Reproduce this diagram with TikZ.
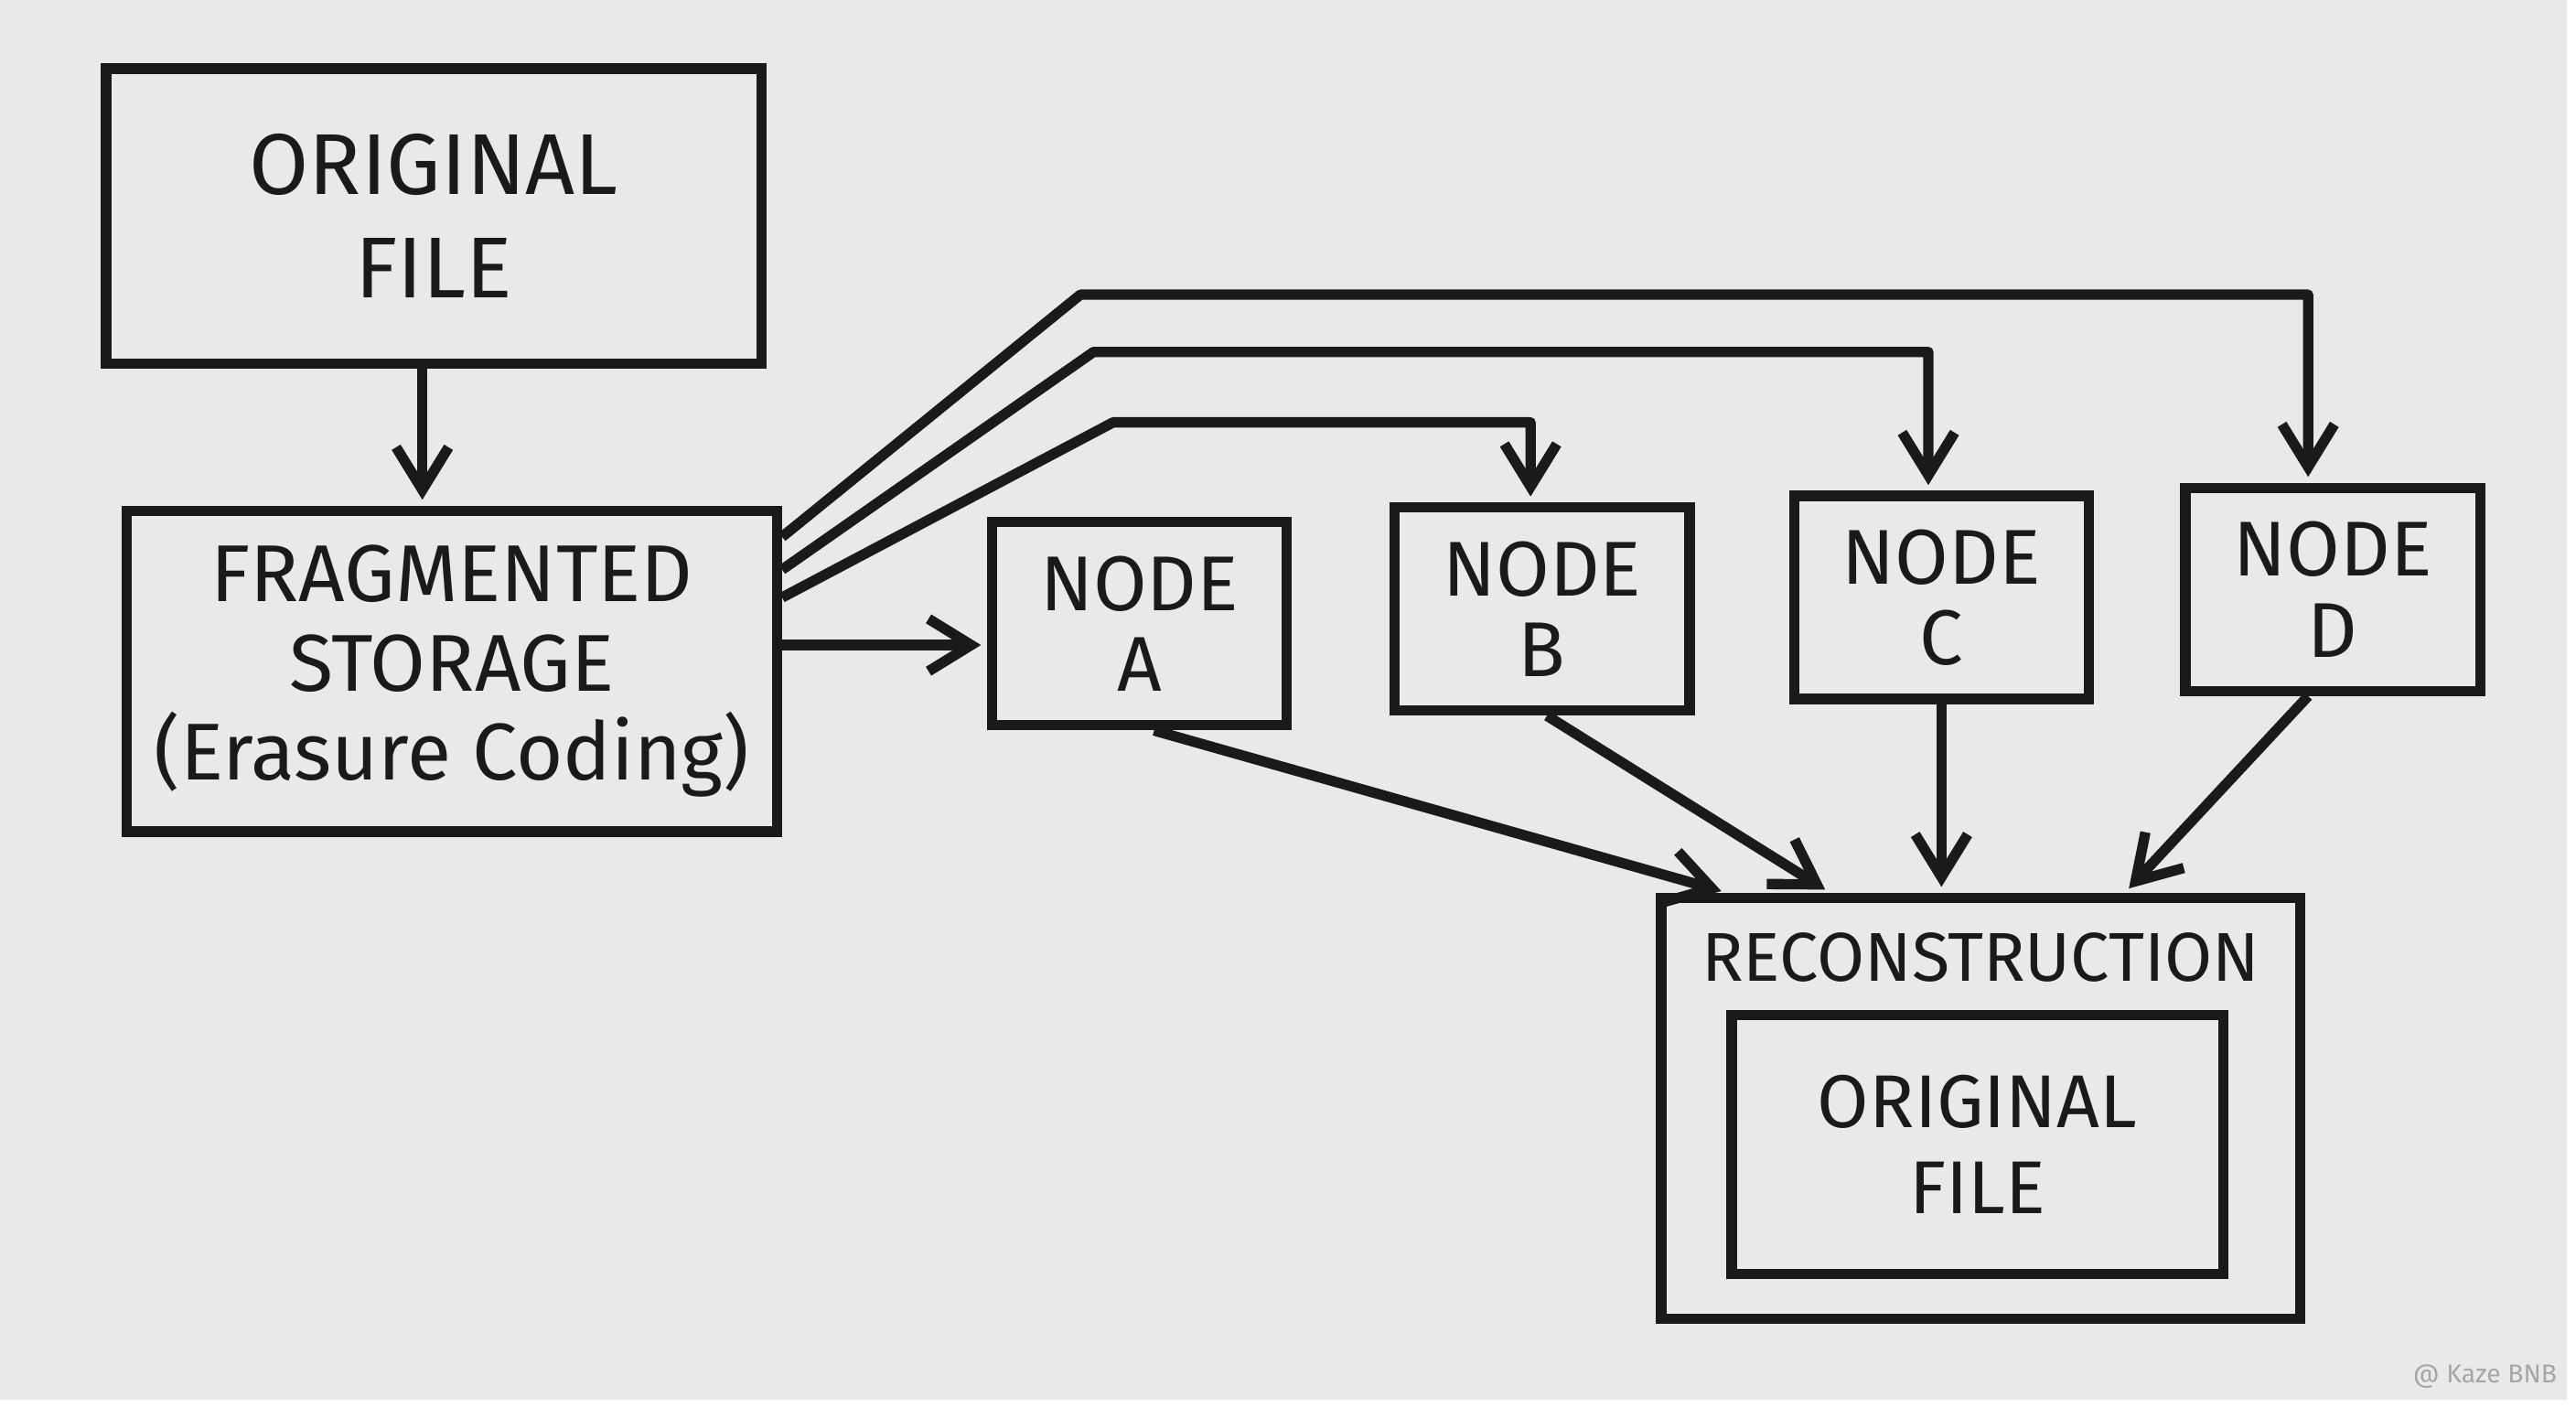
\documentclass[tikz,border=0pt]{standalone}
\usepackage{fontspec}
\setmainfont{Fira Sans}
\usetikzlibrary{arrows.meta, positioning}
\usepackage{xcolor}
\definecolor{board}{RGB}{233,233,233}
\definecolor{ink}{RGB}{26,26,26}

\begin{document}
\begin{tikzpicture}[x=0.01cm, y=-0.01cm, font=\fontsize{14}{15}\selectfont,
  box/.style={draw=ink, line width=1.8pt, align=center, inner sep=0pt, text=ink},
  wire/.style={draw=ink, line width=1.8pt, line join=round, shorten >=1pt,
    -{Straight Barb[length=2.6mm, width=3.2mm]}}]
  \fill[board] (0,0) rectangle (1568,855);
  \node[box, minimum width=4cm, minimum height=1.8cm, font=\fontsize{15}{18}\selectfont]
    (orig) at (265,132) {ORIGINAL\\FILE};
  \node[box, minimum width=3.97cm, minimum height=1.96cm, font=\fontsize{14}{15.5}\selectfont]
    (frag) at (276,410) {FRAGMENTED\\STORAGE\\(Erasure Coding)};
  \foreach \n/\x/\y in {A/696/381, B/942/372, C/1186/365, D/1425/360}{
    \node[box, minimum width=1.8cm, minimum height=1.24cm, font=\fontsize{13.5}{14}\selectfont]
      (node\n) at (\x,\y) {NODE\\\n};
  }
  \node[box, minimum width=3.9cm, minimum height=2.57cm] (recon) at (1210,677) {};
  \node[text=ink, font=\fontsize{12}{14}\selectfont] (recontitle) at (1210,585) {RECONSTRUCTION};
  \node[box, minimum width=3cm, minimum height=1.58cm, font=\fontsize{13}{15}\selectfont]
    (rfile) at (1208,699) {ORIGINAL\\FILE};
  \node[gray!70, font=\fontsize{4.5}{5}\selectfont] (mark) at (1518,841) {@ Kaze BNB};

  % splitting into fragments
  \coordinate (drop) at ([xshift=-0.7mm]orig.south);
  \draw[wire] (drop) -- (drop |- frag.north);
  \coordinate (feedA) at ([yshift=-1.3mm]nodeA.west);
  \draw[wire] (frag.east |- feedA) -- (feedA);
  \coordinate (bendB) at (680,258);
  \coordinate (bendC) at (668,215);
  \coordinate (bendD) at (660,180);
  \draw[wire] ([yshift=4.5mm]frag.east) -- (bendB) -| ([xshift=-0.7mm]nodeB.north);
  \draw[wire] ([yshift=6.2mm]frag.east) -- (bendC) -| ([xshift=-0.8mm]nodeC.north);
  \draw[wire] ([yshift=8.2mm]frag.east) -- (bendD) -| ([xshift=-1.5mm]nodeD.north);

  % fragments back to one file
  \foreach \n/\a/\b in {A/0.9mm/-1.55cm, B/0.3mm/-0.92cm, D/-1.5mm/0.88cm}{
    \draw[wire] ([xshift=\a]node\n.south) -- ([xshift=\b]recon.north);
  }
  \draw[wire] (nodeC.south) -- (nodeC.south |- recon.north);
\end{tikzpicture}
\end{document}
